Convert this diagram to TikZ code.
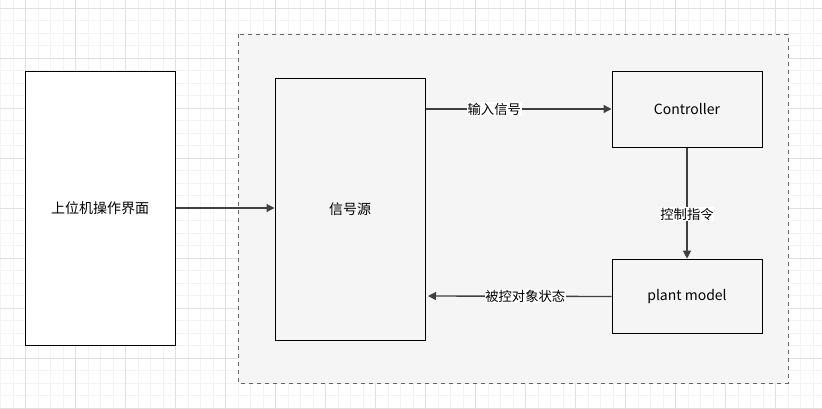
\documentclass[tikz,border=0pt]{standalone}
\usepackage{fontspec}
\setmainfont{Noto Sans CJK SC}
\usetikzlibrary{arrows.meta}
\definecolor{minorgrid}{HTML}{F3F3F3}
\definecolor{majorgrid}{HTML}{E0E0E0}
\definecolor{groupfill}{HTML}{F5F5F5}
\definecolor{groupline}{HTML}{666666}
\tikzset{x=0.75pt,y=-0.75pt,
  box/.style={draw=black, line width=0.75pt, font=\fontsize{10.5pt}{12pt}\selectfont},
  link/.style={draw=black!75, line width=1pt, -{Triangle[length=6pt,width=6pt]}},
  tag/.style={fill=white, inner sep=0.5pt, font=\fontsize{10pt}{11pt}\selectfont}}

\begin{document}
\begin{tikzpicture}
\useasboundingbox (0,0) rectangle (822,408);

%% background grid
\foreach \gx in {0.5,13,...,822} \draw[minorgrid, line width=0.6pt] (\gx,0) -- (\gx,408);
\foreach \gy in {8,20.5,...,408} \draw[minorgrid, line width=0.6pt] (0,\gy) -- (822,\gy);
\foreach \gx in {25,75,...,822} \draw[majorgrid, line width=0.6pt] (\gx,0) -- (\gx,408);
\foreach \gy in {8,58,...,408} \draw[majorgrid, line width=0.6pt] (0,\gy) -- (822,\gy);

%% dashed group
\draw[groupline, fill=groupfill, dashed, line width=0.75pt] (238,34) rectangle (788,383);

\node[box, fill=white, minimum width=112.5pt, minimum height=206pt] (ui) at (100,208.5) {上位机操作界面};
\node[box, minimum width=112.5pt, minimum height=196.5pt] (src) at (350,209) {信号源};
\node[box, minimum width=112.5pt, minimum height=57pt] (ctrl) at (687,109) {Controller};
\node[box, minimum width=112.5pt, minimum height=56pt] (plant) at (687,296.5) {plant model};

\coordinate (srcin) at (350,208);
\coordinate (srcR) at (428,296);

\draw[link] (ui.east |- srcin) -- (src.west |- srcin);
\draw[link] (src.east |- ctrl) -- node[tag, pos=0.37] {输入信号} (ctrl.west);
\draw[link] (ctrl.south) -- node[tag, pos=0.6] {控制指令} (plant.north);
\draw[link] (plant.west) -- node[tag, pos=0.47] {被控对象状态} (srcR);

\end{tikzpicture}
\end{document}
